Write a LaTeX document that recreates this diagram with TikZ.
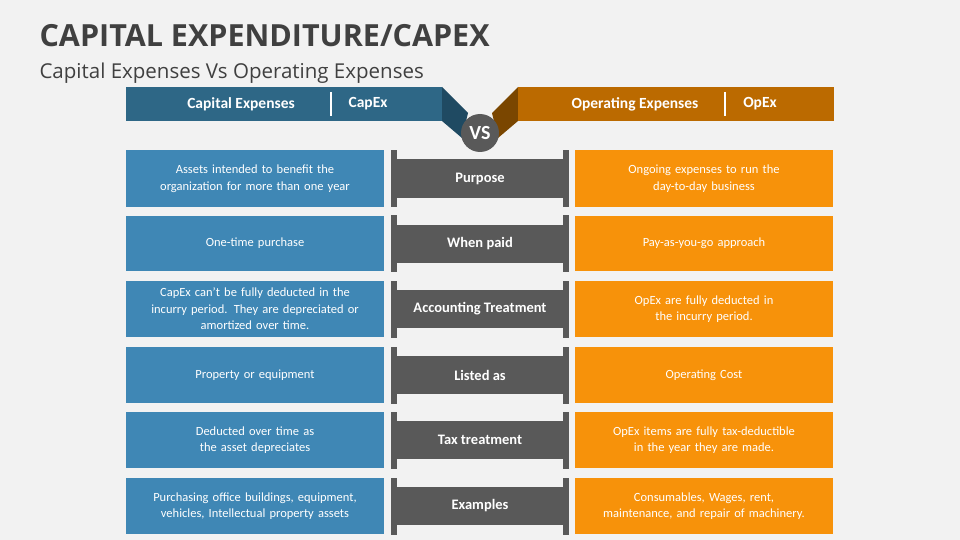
\documentclass[tikz,border=0pt]{standalone}
\usepackage{fontspec}
\setmainfont{Carlito}
\newfontfamily\osans{Open Sans}
\definecolor{bg}{HTML}{F2F2F2}
\definecolor{cblue}{HTML}{3F87B5}
\definecolor{hblue}{HTML}{2E6786}
\definecolor{fblue}{HTML}{1F4A62}
\definecolor{corange}{HTML}{F7920A}
\definecolor{horange}{HTML}{BB6A00}
\definecolor{forange}{HTML}{7A4600}
\definecolor{cgray}{HTML}{595959}
\definecolor{tgray}{HTML}{404040}
\tikzset{
 cell/.style={minimum width=258pt,text width=250pt,align=center,text=white,font=\fontsize{12.5}{16.5}\selectfont,inner sep=0pt},
 mid/.style={fill=cgray,minimum width=167pt,minimum height=38pt,text=white,font=\bfseries\fontsize{14.5}{17}\selectfont,inner sep=0pt},
 tick/.style={fill=cgray,minimum width=6pt,minimum height=57pt,inner sep=0pt},
 head/.style={text=white,font=\bfseries\fontsize{15.5}{18}\selectfont,inner sep=0pt}
}
\begin{document}
\begin{tikzpicture}[x=1pt,y=-1pt]
\fill[bg] (0,0) rectangle (960,540);
\node[anchor=west,text=tgray,font=\osans\bfseries\fontsize{30.5}{34}\selectfont] (title) at (36,36) {CAPITAL EXPENDITURE/CAPEX};
\node[anchor=west,text=tgray,font=\osans\fontsize{20.5}{23}\selectfont] (sub) at (36,73) {Capital Expenses Vs Operating Expenses};
% header
\fill[fblue] (442,87) -- (468,113) -- (462,138) -- (442,121) -- cycle;
\fill[forange] (518,87) -- (492,113) -- (498,138) -- (518,121) -- cycle;
\fill[hblue] (126,87) rectangle (442,121);
\fill[horange] (518,87) rectangle (834,121);
\draw[white,line width=2pt] (331,92) -- (331,116);
\draw[white,line width=2pt] (725,92) -- (725,116);
\node[head] (h1) at (241,104) {Capital Expenses};
\node[head] (h2) at (368,104) {CapEx};
\node[head] (h3) at (635,104) {Operating Expenses};
\node[head] (h4) at (760,104) {OpEx};
\node[circle,fill=cgray,minimum size=38pt,inner sep=0pt,text=white,font=\bfseries\fontsize{20}{22}\selectfont] (vs) at (480,133) {VS};
% rows
\foreach \y/\h/\l/\m/\r [count=\i] in {
 178.5/57/{Assets intended to benefit the\\organization for more than one year}/Purpose/{Ongoing expenses to run the\\day-to-day business},
 243.5/55/{One-time purchase}/When paid/{Pay-as-you-go approach},
 309/56/{CapEx can’t be fully deducted in the\\incurry period. They are depreciated or\\amortized over time.}/Accounting Treatment/{OpEx are fully deducted in\\the incurry period.},
 375/56/{Property or equipment}/Listed as/{Operating Cost},
 440/56/{Deducted over time as\\the asset depreciates}/Tax treatment/{OpEx items are fully tax-deductible\\in the year they are made.},
 506/56/{Purchasing office buildings, equipment,\\vehicles, Intellectual property assets}/Examples/{Consumables, Wages, rent,\\maintenance, and repair of machinery.}}{
 \node[cell,fill=cblue,minimum height=\h pt] (l\i) at (255,\y) {\l};
 \node[cell,fill=corange,minimum height=\h pt] (r\i) at (704,\y) {\r};
 \node[tick] (ta\i) at (394,\y) {};
 \node[tick] (tb\i) at (566,\y) {};
 \node[mid] (m\i) at (480,\y) {\m};
}
\end{tikzpicture}
\end{document}
